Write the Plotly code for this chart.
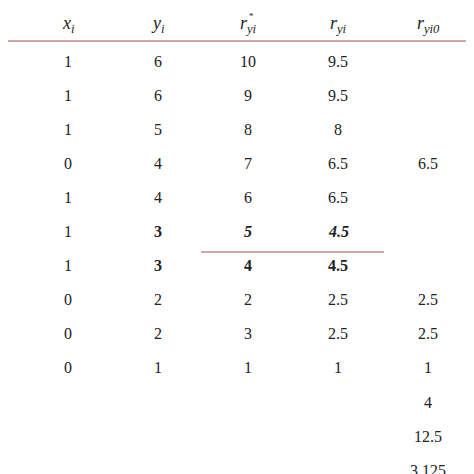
import plotly.graph_objects as go

headers = ["<i>x<sub>i</sub></i>", "<i>y<sub>i</sub></i>", "<i>r<sub>yi</sub></i>", "<i>r<sub>yi</sub></i>", "<i>r<sub>yi0</sub></i>"]
x_i = ["1", "1", "1", "0", "1", "1", "1", "0", "0", "0", "", "", ""]
y_i = ["6", "6", "5", "4", "4", "<b>3</b>", "<b>3</b>", "2", "2", "1", "", "", ""]
r_star = ["10", "9", "8", "7", "6", "<b><i>5</i></b>", "<b>4</b>", "2", "3", "1", "", "", ""]
r_yi = ["9.5", "9.5", "8", "6.5", "6.5", "<b><i>4.5</i></b>", "<b>4.5</b>", "2.5", "2.5", "1", "", "", ""]
r_yi0 = ["", "", "", "6.5", "", "", "", "2.5", "2.5", "1", "4", "12.5", "3.125"]

cols = [x_i, y_i, r_star, r_yi, r_yi0]
col_x = [52, 142, 232, 322, 412]
row_y0, row_dy = 45, 34.1

fig = go.Figure()
font = dict(family="Liberation Serif, serif", size=16, color="#222")
for cx, h in zip(col_x, headers):
    fig.add_annotation(x=cx, y=8, text=h, showarrow=False, font=dict(family="Liberation Serif, serif", size=18, color="#222"))
fig.add_annotation(x=235, y=0, text="*", showarrow=False, font=dict(family="Liberation Serif, serif", size=9, color="#222"))
for cx, col in zip(col_x, cols):
    for i, v in enumerate(col):
        if v:
            fig.add_annotation(x=cx, y=row_y0 + row_dy * i, text=v, showarrow=False, font=font)

fig.add_shape(type="line", x0=-8, x1=466, y0=25, y1=25, line=dict(color="#c48a8a", width=1.3))
fig.add_shape(type="line", x0=185, x1=368, y0=236, y1=236, line=dict(color="#c48a8a", width=1.3))

fig.update_xaxes(range=[-8, 466], visible=False)
fig.update_yaxes(range=[466, -8], visible=False)
fig.update_layout(width=474, height=474, margin=dict(l=0, r=0, t=0, b=0),
                  paper_bgcolor="white", plot_bgcolor="white", showlegend=False)
fig.write_html("out.html")
